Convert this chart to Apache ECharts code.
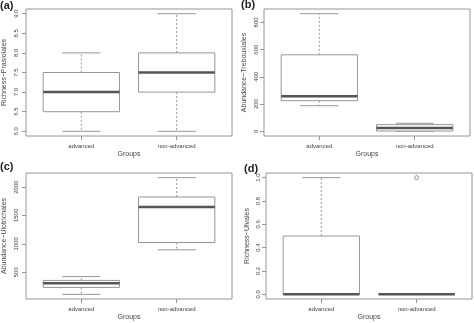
<!DOCTYPE html>
<html>
<head>
<meta charset="utf-8">
<script src="https://cdn.jsdelivr.net/npm/echarts@6/dist/echarts.min.js"></script>
<style>
html,body{margin:0;padding:0;background:#fff;}
#chart{width:474px;height:323px;}
</style>
</head>
<body>
<div id="chart"></div>
<script>
// ---- data ----
const groups = ['advanced', 'non-advanced'];
// [lower whisker, Q1, median, Q3, upper whisker]
const prasiolalesStats = [[6, 6.5, 7, 7.5, 8], [6, 7, 7.5, 8, 9]];
const trebouxialesStats = [[188, 225, 258, 562, 864], [0, 2, 24, 49, 59]];
const ulotrichalesStats = [[111, 233, 304, 356, 423], [895, 1023, 1649, 1825, 2165]];
const ulvalesStats = [[0, 0, 0, 0.5, 1], [0, 0, 0, 0, 0]];
const ulvalesOutliers = [[2, 1]];

const prasiolalesTicks = [6, 6.5, 7, 7.5, 8, 8.5, 9];
const trebouxialesTicks = [0, 200, 400, 600, 800];
const ulotrichalesTicks = [500, 1000, 1500, 2000];
const ulvalesTicks = [0, 0.2, 0.4, 0.6, 0.8, 1.0];

const panelLetters = ['(a)', '(b)', '(c)', '(d)'];
const yTitles = ['Richness~Prasiolales', 'Abundance~Trebouxiales', 'Abundance~Ulotrichales', 'Richness~Ulvales'];

// ---- layout ----
const FONT = 'Liberation Sans, Arial, sans-serif';
const GRAY = '#969696';
const TXT = '#444';
const grids = [
  {left: 25, top: 9, width: 207, height: 127},
  {left: 264, top: 9, width: 206, height: 127},
  {left: 25, top: 173, width: 207, height: 126},
  {left: 266, top: 173, width: 206, height: 126}
];
const yNameGap = [18, 16, 18, 15];
const yLabelMargin = [7, 5, 7, 5];
const letterPos = [[0, 0], [241, -1], [0, 161], [244, 163]];

const panels = [
  {stats: prasiolalesStats, ticks: prasiolalesTicks, dec: 1, out: []},
  {stats: trebouxialesStats, ticks: trebouxialesTicks, dec: 0, out: []},
  {stats: ulotrichalesStats, ticks: ulotrichalesTicks, dec: 0, out: []},
  {stats: ulvalesStats, ticks: ulvalesTicks, dec: 1, out: ulvalesOutliers}
];

function rangeOf(p) {
  let lo = Infinity, hi = -Infinity;
  p.stats.forEach(s => { lo = Math.min(lo, s[0]); hi = Math.max(hi, s[4]); });
  p.out.forEach(o => { lo = Math.min(lo, o[1]); hi = Math.max(hi, o[1]); });
  const d = (hi - lo) * 0.04;
  return [lo - d, hi + d];
}

function renderBox(params, api) {
  const x = api.value(0);
  const lw = api.value(1), q1 = api.value(2), md = api.value(3), q3 = api.value(4), uw = api.value(5);
  const hb = 0.4, hc = 0.2;
  const p = (a, b) => api.coord([a, b]);
  const boxStyle = {stroke: GRAY, fill: '#fff', lineWidth: 1};
  const children = [];
  const dash = {stroke: GRAY, lineWidth: 1, lineDash: [2, 2]};
  const solid = {stroke: GRAY, lineWidth: 1};
  children.push({type: 'line', shape: {x1: p(x, q3)[0], y1: p(x, q3)[1], x2: p(x, uw)[0], y2: p(x, uw)[1]}, style: dash});
  children.push({type: 'line', shape: {x1: p(x, q1)[0], y1: p(x, q1)[1], x2: p(x, lw)[0], y2: p(x, lw)[1]}, style: dash});
  children.push({type: 'line', shape: {x1: p(x - hc, uw)[0], y1: p(x - hc, uw)[1], x2: p(x + hc, uw)[0], y2: p(x + hc, uw)[1]}, style: solid});
  children.push({type: 'line', shape: {x1: p(x - hc, lw)[0], y1: p(x - hc, lw)[1], x2: p(x + hc, lw)[0], y2: p(x + hc, lw)[1]}, style: solid});
  const a = p(x - hb, q3), b = p(x + hb, q1);
  children.push({type: 'rect', shape: {x: a[0], y: a[1], width: b[0] - a[0], height: b[1] - a[1]}, style: boxStyle});
  children.push({type: 'line', shape: {x1: p(x - hb, md)[0], y1: p(x - hb, md)[1], x2: p(x + hb, md)[0], y2: p(x + hb, md)[1]}, style: {stroke: '#555', lineWidth: 2.5}});
  return {type: 'group', children};
}

const option = {
  backgroundColor: '#fff',
  animation: false,
  title: panelLetters.map((t, i) => ({
    text: t, left: letterPos[i][0], top: letterPos[i][1], padding: 0,
    textStyle: {fontFamily: FONT, fontSize: 11, fontWeight: 'bold', color: '#222'}
  })),
  grid: grids.map(g => Object.assign({show: true, borderColor: GRAY, borderWidth: 1, backgroundColor: 'transparent'}, g)),
  xAxis: grids.map((g, i) => ({
    type: 'value', gridIndex: i, min: 0.42, max: 2.58,
    name: 'Groups', nameLocation: 'middle', nameGap: 15,
    nameTextStyle: {fontFamily: FONT, fontSize: 7, color: TXT},
    axisLine: {show: false, onZero: false},
    axisTick: {show: true, length: 4, lineStyle: {color: GRAY}, customValues: [1, 2]},
    axisLabel: {show: true, margin: 7, fontFamily: FONT, fontSize: 6, color: TXT, customValues: [1, 2],
      formatter: v => groups[Math.round(v) - 1] || ''},
    splitLine: {show: false}
  })),
  yAxis: panels.map((p, i) => {
    const r = rangeOf(p);
    return {
      type: 'value', gridIndex: i, min: r[0], max: r[1],
      name: yTitles[i], nameLocation: 'middle', nameGap: yNameGap[i], nameRotate: 90,
      nameTextStyle: {fontFamily: FONT, fontSize: 7, color: TXT},
      axisLine: {show: false, onZero: false},
      axisTick: {show: true, length: 4, lineStyle: {color: GRAY}, customValues: p.ticks},
      axisLabel: {show: true, rotate: 90, margin: yLabelMargin[i], fontFamily: FONT, fontSize: 6, color: TXT,
        customValues: p.ticks, formatter: v => Number(v).toFixed(p.dec)},
      splitLine: {show: false}
    };
  }),
  series: []
};

panels.forEach((p, i) => {
  option.series.push({
    type: 'custom', xAxisIndex: i, yAxisIndex: i,
    renderItem: renderBox,
    data: p.stats.map((s, k) => [k + 1].concat(s)),
    encode: {x: 0, y: [1, 2, 3, 4, 5]},
    silent: true
  });
  if (p.out.length) {
    option.series.push({
      type: 'scatter', xAxisIndex: i, yAxisIndex: i,
      symbol: 'circle', symbolSize: 4,
      itemStyle: {color: 'transparent', borderColor: '#777', borderWidth: 1},
      data: p.out, silent: true, z: 5
    });
  }
});

const chart = echarts.init(document.getElementById('chart'), null, {renderer: 'canvas'});
chart.setOption(option);
</script>
</body>
</html>
